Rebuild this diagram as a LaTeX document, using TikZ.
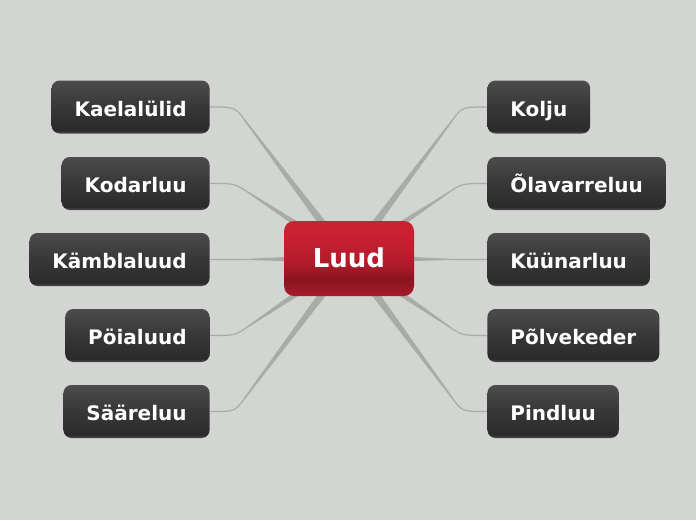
\documentclass[tikz,border=0pt]{standalone}
\usepackage{fontspec}
\setmainfont{DejaVu Sans}
\usetikzlibrary{positioning,calc}
\pgfdeclarelayer{background}
\pgfsetlayers{background,main}

\definecolor{paper}{HTML}{D3D5D2}
\definecolor{linkgray}{HTML}{A9ABA8}
\definecolor{leaftop}{HTML}{4C4C4C}
\definecolor{leafmid}{HTML}{373737}
\definecolor{leafdark}{HTML}{2B2B2B}
\definecolor{leafedge}{HTML}{4E4E4E}
\definecolor{rootop}{HTML}{CB2233}
\definecolor{rootup}{HTML}{C42031}
\definecolor{rootmid}{HTML}{AE1B2A}
\definecolor{rootdark}{HTML}{8A1320}
\definecolor{rootedge}{HTML}{A81B2B}

\pgfdeclareverticalshading{leafshade}{100bp}{color(0bp)=(leafedge); color(25bp)=(leafedge);
  color(28bp)=(leafdark); color(50bp)=(leafmid); color(75bp)=(leaftop); color(100bp)=(leaftop)}
\pgfdeclareverticalshading{rootshade}{100bp}{color(0bp)=(rootedge); color(25bp)=(rootedge);
  color(36bp)=(rootdark); color(46bp)=(rootmid); color(60bp)=(rootup); color(75bp)=(rootop); color(100bp)=(rootop)}

\begin{document}
\begin{tikzpicture}[x=1pt,y=1pt,
leaf/.style={
rectangle,rounded corners=8pt,minimum height=53pt,inner xsep=23pt, % children
text height=19pt,text depth=1pt,
shade,shading=leafshade,text=white,
font=\fontsize{20}{24}\selectfont\bfseries},
root/.style={
rectangle,rounded corners=10pt,minimum height=75pt,minimum width=130pt,
text height=20pt,text depth=3pt,
shade,shading=rootshade,text=white,
font=\fontsize{26}{30}\selectfont\bfseries}]

\tikzset{
  link/.style={fill=linkgray},
  twig/.style={draw=linkgray,line width=1.2pt}
}

    \node[root] at (349,-258.5) (luud) {Luud};

    \node[leaf, left=74pt of luud, yshift=151.5pt] (kael) {Kaelalülid};
    \node[leaf, left=74pt of luud, yshift=75pt] (koda) {Kodarluu};
    \node[leaf, left=74pt of luud, yshift=-1pt] (kaml) {Kämblaluud};
    \node[leaf, left=74pt of luud, yshift=-77pt] (poia) {Pöialuud};
    \node[leaf, left=74pt of luud, yshift=-153pt] (saar) {Sääreluu};

    \node[leaf, right=73pt of luud, yshift=151.5pt] (kolj) {Kolju};
    \node[leaf, right=73pt of luud, yshift=75pt] (olav) {Õlavarreluu};
    \node[leaf, right=73pt of luud, yshift=-1pt] (kuun) {Küünarluu};
    \node[leaf, right=73pt of luud, yshift=-77pt] (polv) {Põlvekeder};
    \node[leaf, right=73pt of luud, yshift=-153pt] (pind) {Pindluu};

    \begin{pgfonlayer}{background}
    \fill[paper] (0,0) rectangle (696,-520);
    \foreach \kid/\side/\dx in {kael/east/25,koda/east/25,kaml/east/25,poia/east/25,saar/east/25,
                               kolj/west/-25,olav/west/-25,kuun/west/-25,polv/west/-25,pind/west/-25} {
      \coordinate (q) at ($(\kid.\side)+(\dx,0)$);
      \coordinate (p) at ($(q)!15pt!(luud.center)$);
      \fill[link] ($(p)!0.7pt!90:(luud.center)$) -- ($(luud.center)!4.5pt!-90:(p)$)
        -- ($(luud.center)!4.5pt!90:(p)$) -- ($(p)!0.7pt!-90:(luud.center)$) -- cycle;
      \draw[twig] (\kid.\side) .. controls (q) .. (p);
    }
    \end{pgfonlayer}

\end{tikzpicture}
\end{document}
